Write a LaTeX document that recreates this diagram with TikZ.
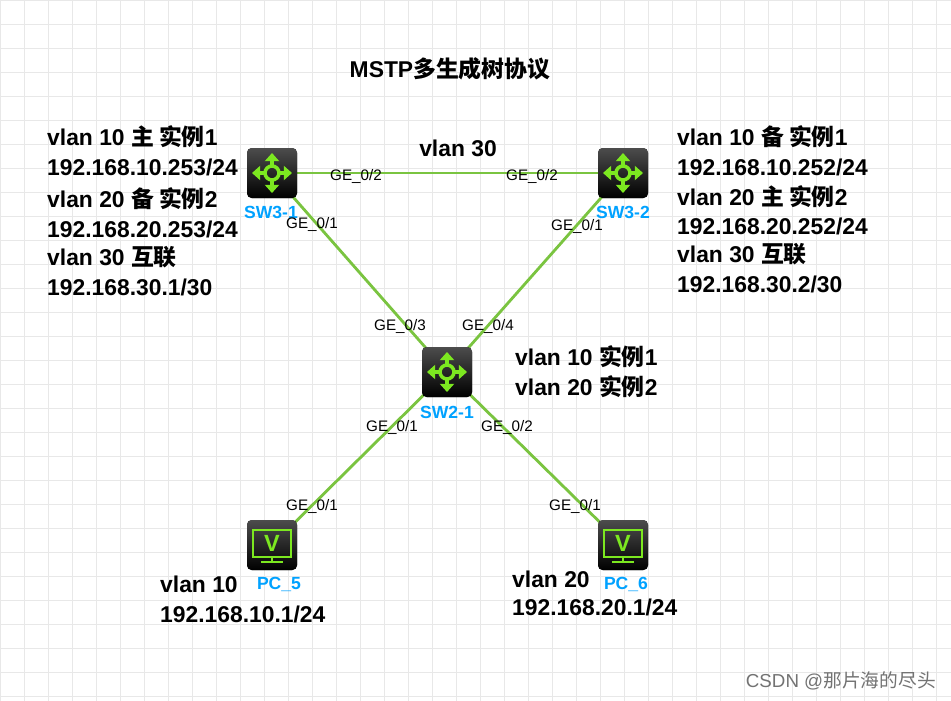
\documentclass[tikz,border=0pt]{standalone}
\usepackage{fontspec}
\setmainfont{Liberation Sans}
\newfontfamily\cjk{Noto Sans CJK SC}
\usetikzlibrary{positioning,arrows.meta,calc}
\definecolor{lnk}{RGB}{122,196,64}
\definecolor{ico}{RGB}{124,232,32}
\definecolor{nm}{RGB}{0,162,255}
\tikzset{
  link/.style={draw=lnk,line width=2.4pt},
  port/.style={font=\fontsize{13}{15}\selectfont,inner sep=1pt},
  info/.style={font=\fontsize{19.5}{22}\selectfont\bfseries,align=left,anchor=west,inner sep=0pt},
  dev/.style={font=\fontsize{15}{17}\selectfont\bfseries,text=nm,inner sep=0pt},
  box/.style={minimum size=1.5cm,inner sep=0pt}
}
\newcommand{\zh}[1]{{\cjk\bfseries #1}}
\newcommand{\swicon}[1]{%
  \fill[top color=black!70,bottom color=black,rounded corners=4pt] ($(#1)+(-25,-25)$) rectangle ($(#1)+(25,25)$);
  \draw[ico,line width=3pt] (#1) circle (7);
  \foreach \a in {0,90,180,270}
    \draw[ico,line width=3pt,-{Triangle[length=7pt,width=12pt]}] ($(#1)+(\a:7)$) -- ($(#1)+(\a:20)$);}
\newcommand{\pcicon}[1]{%
  \fill[top color=black!70,bottom color=black,rounded corners=4pt] ($(#1)+(-25,-25)$) rectangle ($(#1)+(25,25)$);
  \draw[ico,line width=2.4pt] ($(#1)+(-19,-15)$) rectangle ($(#1)+(19,12)$);
  \node[ico,font=\bfseries\fontsize{20}{20}\selectfont,inner sep=0pt] at ($(#1)+(0,-2)$) {V};
  \draw[ico,line width=2.4pt] ($(#1)+(0,12)$) -- ($(#1)+(0,17)$);
  \draw[ico,line width=2.4pt] ($(#1)+(-11,17)$) -- ($(#1)+(11,17)$);}
\begin{document}
\begin{tikzpicture}[x=0.03cm,y=-0.03cm]
\fill[white] (0,0) rectangle (951,701);
\useasboundingbox (0,0) rectangle (951,701);
% grid
\foreach \x in {0,24,...,951}
  \draw[black!9,line width=0.8pt] (\x,0) -- (\x,701);
\foreach \y in {0,24,...,701}
  \draw[black!9,line width=0.8pt] (0,\y) -- (951,\y);
% devices
\node[box] (s1) at (272,173) {};
\node[box] (s2) at (623,173) {};
\node[box] (s3) at (447,372) {};
\node[box] (p5) at (272,545) {};
\node[box] (p6) at (623,545) {};
% links
\draw[link] (s1.center) -- (s2.center);
\draw[link] (s1.center) -- (s3.center);
\draw[link] (s2.center) -- (s3.center);
\draw[link] (s3.center) -- (p5.center);
\draw[link] (s3.center) -- (p6.center);
\swicon{s1}\swicon{s2}\swicon{s3}
\pcicon{p5}\pcicon{p6}
\node[dev] at (271,212) {SW3-1};
\node[dev] at (623,212) {SW3-2};
\node[dev] at (447,412) {SW2-1};
\node[dev] at (279,584) {PC\_5};
\node[dev] at (626,584) {PC\_6};
% ports
\node[port] at (356,176) {GE\_0/2};
\node[port] at (532,176) {GE\_0/2};
\node[port] at (312,224) {GE\_0/1};
\node[port] at (577,226) {GE\_0/1};
\node[port] at (400,326) {GE\_0/3};
\node[port] at (488,326) {GE\_0/4};
\node[port] at (392,427) {GE\_0/1};
\node[port] at (507,427) {GE\_0/2};
\node[port] at (312,506) {GE\_0/1};
\node[port] at (575,506) {GE\_0/1};
% texts
\node[info,anchor=center] at (450,69) {MSTP\zh{多生成树协议}};
\node[info,anchor=center] at (458,148) {vlan 30};
\node[info] at (47,137) {vlan 10 \zh{主 实例}1};
\node[info] at (47,167) {192.168.10.253/24};
\node[info] at (47,199) {vlan 20 \zh{备 实例}2};
\node[info] at (47,229) {192.168.20.253/24};
\node[info] at (47,257) {vlan 30 \zh{互联}};
\node[info] at (47,287) {192.168.30.1/30};
\node[info] at (677,137) {vlan 10 \zh{备 实例}1};
\node[info] at (677,167) {192.168.10.252/24};
\node[info] at (677,197) {vlan 20 \zh{主 实例}2};
\node[info] at (677,226) {192.168.20.252/24};
\node[info] at (677,254) {vlan 30 \zh{互联}};
\node[info] at (677,284) {192.168.30.2/30};
\node[info] at (515,357) {vlan 10 \zh{实例}1};
\node[info] at (515,387) {vlan 20 \zh{实例}2};
\node[info] at (160,584) {vlan 10};
\node[info] at (160,614) {192.168.10.1/24};
\node[info] at (512,579) {vlan 20};
\node[info] at (512,607) {192.168.20.1/24};
\node[font=\fontsize{16}{18}\selectfont,text=black!55,anchor=east,inner sep=0pt] at (936,681) {CSDN @\zh{\mdseries 那片海的尽头}};
\end{tikzpicture}
\end{document}
